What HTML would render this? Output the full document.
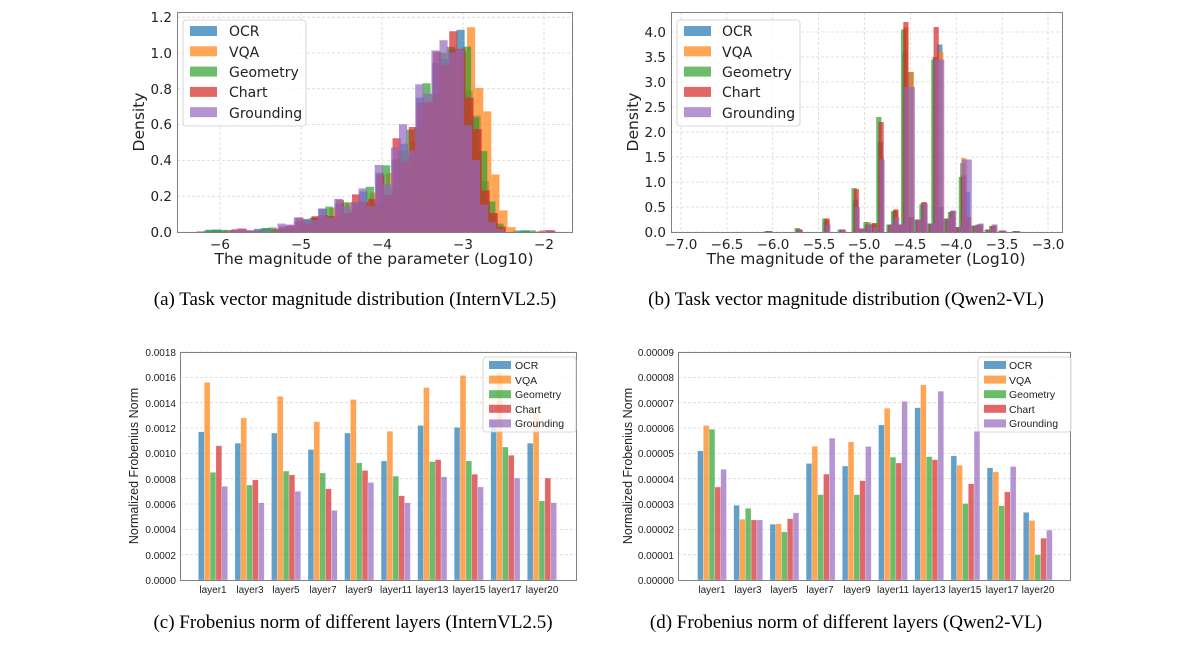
<!DOCTYPE html>
<html><head><meta charset="utf-8"><style>
html,body{margin:0;padding:0;background:#fff;}
svg{display:block;}
.t{font-family:"DejaVu Sans","Liberation Sans",sans-serif;fill:#222;}
.l{font-family:"Liberation Sans",sans-serif;fill:#222;}
.cap{font-family:"Liberation Serif",serif;font-size:19px;fill:#000;}
</style></head><body>
<svg id="s" width="1203" height="653" xmlns="http://www.w3.org/2000/svg">
<g id="grid"></g>
<g id="bars"></g>
<g id="frames" fill="none" stroke="#808080" stroke-width="1">
<rect x="177.5" y="12.5" width="395" height="220"/>
<rect x="671.5" y="12.5" width="391" height="220"/>
<rect x="180.5" y="352.5" width="396" height="228"/>
<rect x="678.5" y="352.5" width="392" height="228"/>
</g>
<g id="legs"></g>
<g class="t" font-size="13.5" text-anchor="end">
<text x="172" y="237">0.0</text><text x="172" y="201">0.2</text><text x="172" y="165">0.4</text><text x="172" y="129">0.6</text><text x="172" y="94">0.8</text><text x="172" y="58">1.0</text><text x="172" y="22">1.2</text>
</g>
<g class="t" font-size="13.5" text-anchor="middle">
<text x="220" y="249">−6</text><text x="301" y="249">−5</text><text x="382" y="249">−4</text><text x="463" y="249">−3</text><text x="544" y="249">−2</text>
</g>
<text class="t" font-size="15.5" x="374" y="264" text-anchor="middle">The magnitude of the parameter (Log10)</text>
<text class="t" font-size="15.5" transform="translate(144,122) rotate(-90)" text-anchor="middle">Density</text>
<g class="t" font-size="13.5" text-anchor="end">
<text x="666" y="237">0.0</text><text x="666" y="212">0.5</text><text x="666" y="187">1.0</text><text x="666" y="162">1.5</text><text x="666" y="137">2.0</text><text x="666" y="112">2.5</text><text x="666" y="87">3.0</text><text x="666" y="62">3.5</text><text x="666" y="37">4.0</text>
</g>
<g class="t" font-size="13.5" text-anchor="middle">
<text x="681" y="249">−7.0</text><text x="727" y="249">−6.5</text><text x="773" y="249">−6.0</text><text x="819" y="249">−5.5</text><text x="864" y="249">−5.0</text><text x="910" y="249">−4.5</text><text x="956" y="249">−4.0</text><text x="1002" y="249">−3.5</text><text x="1048" y="249">−3.0</text>
</g>
<text class="t" font-size="15.5" x="866" y="264" text-anchor="middle">The magnitude of the parameter (Log10)</text>
<text class="t" font-size="15.5" transform="translate(638,122) rotate(-90)" text-anchor="middle">Density</text>
<g class="l" font-size="10" text-anchor="end">
<text x="176" y="584">0.0000</text><text x="176" y="559">0.0002</text><text x="176" y="533">0.0004</text><text x="176" y="508">0.0006</text><text x="176" y="483">0.0008</text><text x="176" y="457">0.0010</text><text x="176" y="432">0.0012</text><text x="176" y="407">0.0014</text><text x="176" y="381">0.0016</text><text x="176" y="356">0.0018</text>
</g>
<g class="l" font-size="10" text-anchor="middle">
<text x="213" y="593">layer1</text><text x="250" y="593">layer3</text><text x="286" y="593">layer5</text><text x="323" y="593">layer7</text><text x="359" y="593">layer9</text><text x="396" y="593">layer11</text><text x="432" y="593">layer13</text><text x="469" y="593">layer15</text><text x="505" y="593">layer17</text><text x="542" y="593">layer20</text>
</g>
<text class="l" font-size="12.5" transform="translate(138,466) rotate(-90)" text-anchor="middle">Normalized Frobenius Norm</text>
<g class="l" font-size="10" text-anchor="end">
<text x="674" y="584">0.00000</text><text x="674" y="559">0.00001</text><text x="674" y="533">0.00002</text><text x="674" y="508">0.00003</text><text x="674" y="483">0.00004</text><text x="674" y="457">0.00005</text><text x="674" y="432">0.00006</text><text x="674" y="407">0.00007</text><text x="674" y="381">0.00008</text><text x="674" y="356">0.00009</text>
</g>
<g class="l" font-size="10" text-anchor="middle">
<text x="712" y="593">layer1</text><text x="748" y="593">layer3</text><text x="784" y="593">layer5</text><text x="820" y="593">layer7</text><text x="857" y="593">layer9</text><text x="893" y="593">layer11</text><text x="929" y="593">layer13</text><text x="965" y="593">layer15</text><text x="1002" y="593">layer17</text><text x="1038" y="593">layer20</text>
</g>
<text class="l" font-size="12.5" transform="translate(632,466) rotate(-90)" text-anchor="middle">Normalized Frobenius Norm</text>
<g class="t" font-size="14">
<text x="229" y="36">OCR</text><text x="229" y="57">VQA</text><text x="229" y="77">Geometry</text><text x="229" y="97">Chart</text><text x="229" y="118">Grounding</text>
<text x="722" y="36">OCR</text><text x="722" y="57">VQA</text><text x="722" y="77">Geometry</text><text x="722" y="97">Chart</text><text x="722" y="118">Grounding</text>
</g>
<g class="l" font-size="10.5">
<text x="515" y="369">OCR</text><text x="515" y="384">VQA</text><text x="515" y="398">Geometry</text><text x="515" y="413">Chart</text><text x="515" y="427">Grounding</text>
<text x="1009" y="369">OCR</text><text x="1009" y="384">VQA</text><text x="1009" y="398">Geometry</text><text x="1009" y="413">Chart</text><text x="1009" y="427">Grounding</text>
</g>
<text class="cap" x="355" y="305" text-anchor="middle">(a) Task vector magnitude distribution (InternVL2.5)</text>
<text class="cap" x="846" y="305" text-anchor="middle">(b) Task vector magnitude distribution (Qwen2-VL)</text>
<text class="cap" x="353" y="628" text-anchor="middle">(c) Frobenius norm of different layers (InternVL2.5)</text>
<text class="cap" x="846" y="628" text-anchor="middle">(d) Frobenius norm of different layers (Qwen2-VL)</text>
</svg>
<script>
const NS="http://www.w3.org/2000/svg";
const C=["#1f77b4","#ff7f0e","#2ca02c","#d62728","#9467bd"];
function el(p,t,a){const e=document.createElementNS(NS,t);for(const k in a)e.setAttribute(k,a[k]);p.appendChild(e);return e;}
const G=document.getElementById("grid"),B=document.getElementById("bars"),L=document.getElementById("legs");
function hl(x1,x2,y){el(G,"line",{x1:x1,x2:x2,y1:y,y2:y,stroke:"#d8d8d8","stroke-dasharray":"3,2","stroke-width":0.8});}
function vl(x,y1,y2){el(G,"line",{x1:x,x2:x,y1:y1,y2:y2,stroke:"#d8d8d8","stroke-dasharray":"3,2","stroke-width":0.8});}
for(let i=0;i<=6;i++)hl(177,572,232-179*0.2*i);
for(let v=-6;v<=-2;v++)vl(220+81*(v+6),12,232);
for(let i=0;i<=8;i++)hl(671,1062,232-25*i);
for(let i=0;i<=8;i++)vl(681+45.875*i,12,232);
for(let i=1;i<=9;i++){hl(180,576,580-25.33*i);hl(678,1070,580-25.33*i);}
const base=[[-6.3,0],[-6.2,0.004],[-5.6,0.008],[-5.3,0.02],[-5.1,0.05],[-4.9,0.08],[-4.7,0.11],[-4.5,0.14],[-4.3,0.18],[-4.1,0.24],[-3.95,0.32],[-3.8,0.45],[-3.7,0.55],[-3.6,0.66],[-3.5,0.78],[-3.4,0.88],[-3.3,0.98],[-3.2,1.08],[-3.1,1.05],[-3.0,0.9],[-2.9,0.62],[-2.8,0.32],[-2.7,0.12],[-2.6,0.03],[-2.5,0],[-1,0]];
function interp(x){for(let i=0;i<base.length-1;i++){const a=base[i],b=base[i+1];if(x>=a[0]&&x<=b[0])return a[1]+(b[1]-a[1])*(x-a[0])/(b[0]-a[0]);}return 0;}
const sh=[0.06,0.2,0.08,0.05,-0.02];
const off=[0.02,0.05,0.0,0.03,0.01];
for(let s=0;s<5;s++){
  for(let b=-6.3;b<-2.0;b+=0.1){
    const x0=b+off[s];const xc=x0+0.05;
    let h=interp(xc-sh[s]);
    h+= h*0.35*Math.sin(xc*37+s*1.7)*(xc<-3.6?1:0.3)+0.01*Math.sin(xc*53+s);
    if(h<0.004)continue;
    const px=220+81*(x0+6),w=8.1;
    el(B,"rect",{x:px,y:232-179*h,width:w,height:179*h,fill:C[s],"fill-opacity":0.7});
  }
}
const sp=[[-6.05,[.02,.02,.02,.02,.02]],[-5.72,[.05,.06,.08,.05,.04]],[-5.42,[.2,.25,.27,.27,.15]],[-5.25,[.05,.05,.05,.05,.04]],[-5.1,[.65,.5,.88,.86,.5]],[-5.04,[.07,.07,.07,.07,.07]],[-4.97,[.15,.2,.2,.15,.15]],[-4.9,[.15,.15,.17,.18,.1]],[-4.83,[1.8,1.5,2.3,2.2,1.45]],[-4.72,[.15,.15,.15,.15,.15]],[-4.67,[.4,.45,.42,.45,.3]],[-4.61,[.15,.15,.15,.15,.15]],[-4.56,[3.6,4.1,4.05,4.2,2.9]],[-4.5,[3.2,3.2,.3,.3,2.9]],[-4.42,[.25,.25,.25,.25,.25]],[-4.36,[.58,.58,.55,.6,.57]],[-4.28,[.17,.17,.17,.17,.17]],[-4.23,[3.5,3.5,3.45,4.1,3.45]],[-4.18,[3.75,3.6,.5,.5,3.45]],[-4.1,[.27,.27,.27,.27,.27]],[-4.05,[.4,.42,.4,.42,.43]],[-3.98,[.1,.1,.1,.1,.1]],[-3.93,[1.38,1.48,1.1,1.13,1.45]],[-3.88,[.8,.3,.3,.3,1.45]],[-3.8,[.13,.13,.13,.13,.13]],[-3.75,[.15,.15,.15,.15,.17]],[-3.65,[.05,.05,.05,.05,.05]],[-3.6,[.12,.15,.12,.12,.15]],[-3.5,[.03,.03,.03,.03,.03]],[-3.35,[.02,.02,.02,.02,.02]]];
const ob=[0,0.01,-0.015,0.01,0.02];
for(let s=0;s<5;s++)for(const [x,hs] of sp){const h=hs[s];const px=681+91.75*(x+ob[s]+7)-2.5;
 el(B,"rect",{x:px,y:232-50*h,width:5.2,height:50*h,fill:C[s],"fill-opacity":0.7});}
const dc=[[11.7,15.6,8.5,10.6,7.4],[10.8,12.8,7.5,7.9,6.1],[11.6,14.5,8.6,8.3,7.0],[10.3,12.5,8.45,7.2,5.5],[11.6,14.25,9.25,8.65,7.7],[9.4,11.75,8.2,6.65,6.1],[12.2,15.2,9.35,9.5,8.15],[12.05,16.15,9.4,8.35,7.35],[12.6,16.4,10.5,9.85,8.05],[10.8,13.3,6.25,8.05,6.1]];
const dd=[[5.1,6.1,5.95,3.67,4.37],[2.95,2.4,2.83,2.37,2.37],[2.2,2.22,1.9,2.42,2.65],[4.6,5.28,3.37,4.18,5.6],[4.5,5.45,3.37,3.92,5.27],[6.12,6.78,4.85,4.62,7.05],[6.8,7.7,4.87,4.75,7.45],[4.9,4.53,3.02,3.8,5.87],[4.43,4.27,2.93,3.48,4.48],[2.67,2.35,1.0,1.65,1.97]];
function bars(data,c0,dx,scale){for(let g=0;g<10;g++)for(let s=0;s<5;s++){const h=data[g][s]*scale;const cx=c0+dx*g;const w=dx*0.8/5;
 el(B,"rect",{x:cx-dx*0.4+w*s,y:580-h,width:w,height:h,fill:C[s],"fill-opacity":0.7,stroke:"#fff","stroke-opacity":0.5,"stroke-width":0.5});}}
bars(dc,213,36.55,228/18);bars(dd,712,36.2,228/9);
function leg(x,y,w,h,px,py,pw,ph,dy){el(L,"rect",{x:x,y:y,width:w,height:h,rx:3,fill:"#fff","fill-opacity":0.8,stroke:"#ccc","stroke-width":0.8});
 for(let i=0;i<5;i++)el(L,"rect",{x:px,y:py+dy*i,width:pw,height:ph,fill:C[i],"fill-opacity":0.7});}
leg(183,20,123,106,190,26,27,10,20.3);
leg(677,20,123,106,684,26,27,10,20.3);
leg(483,357,93,75,489,361,22,8,14.6);
leg(978,357,93,75,984,361,22,8,14.6);
</script>
</body></html>
